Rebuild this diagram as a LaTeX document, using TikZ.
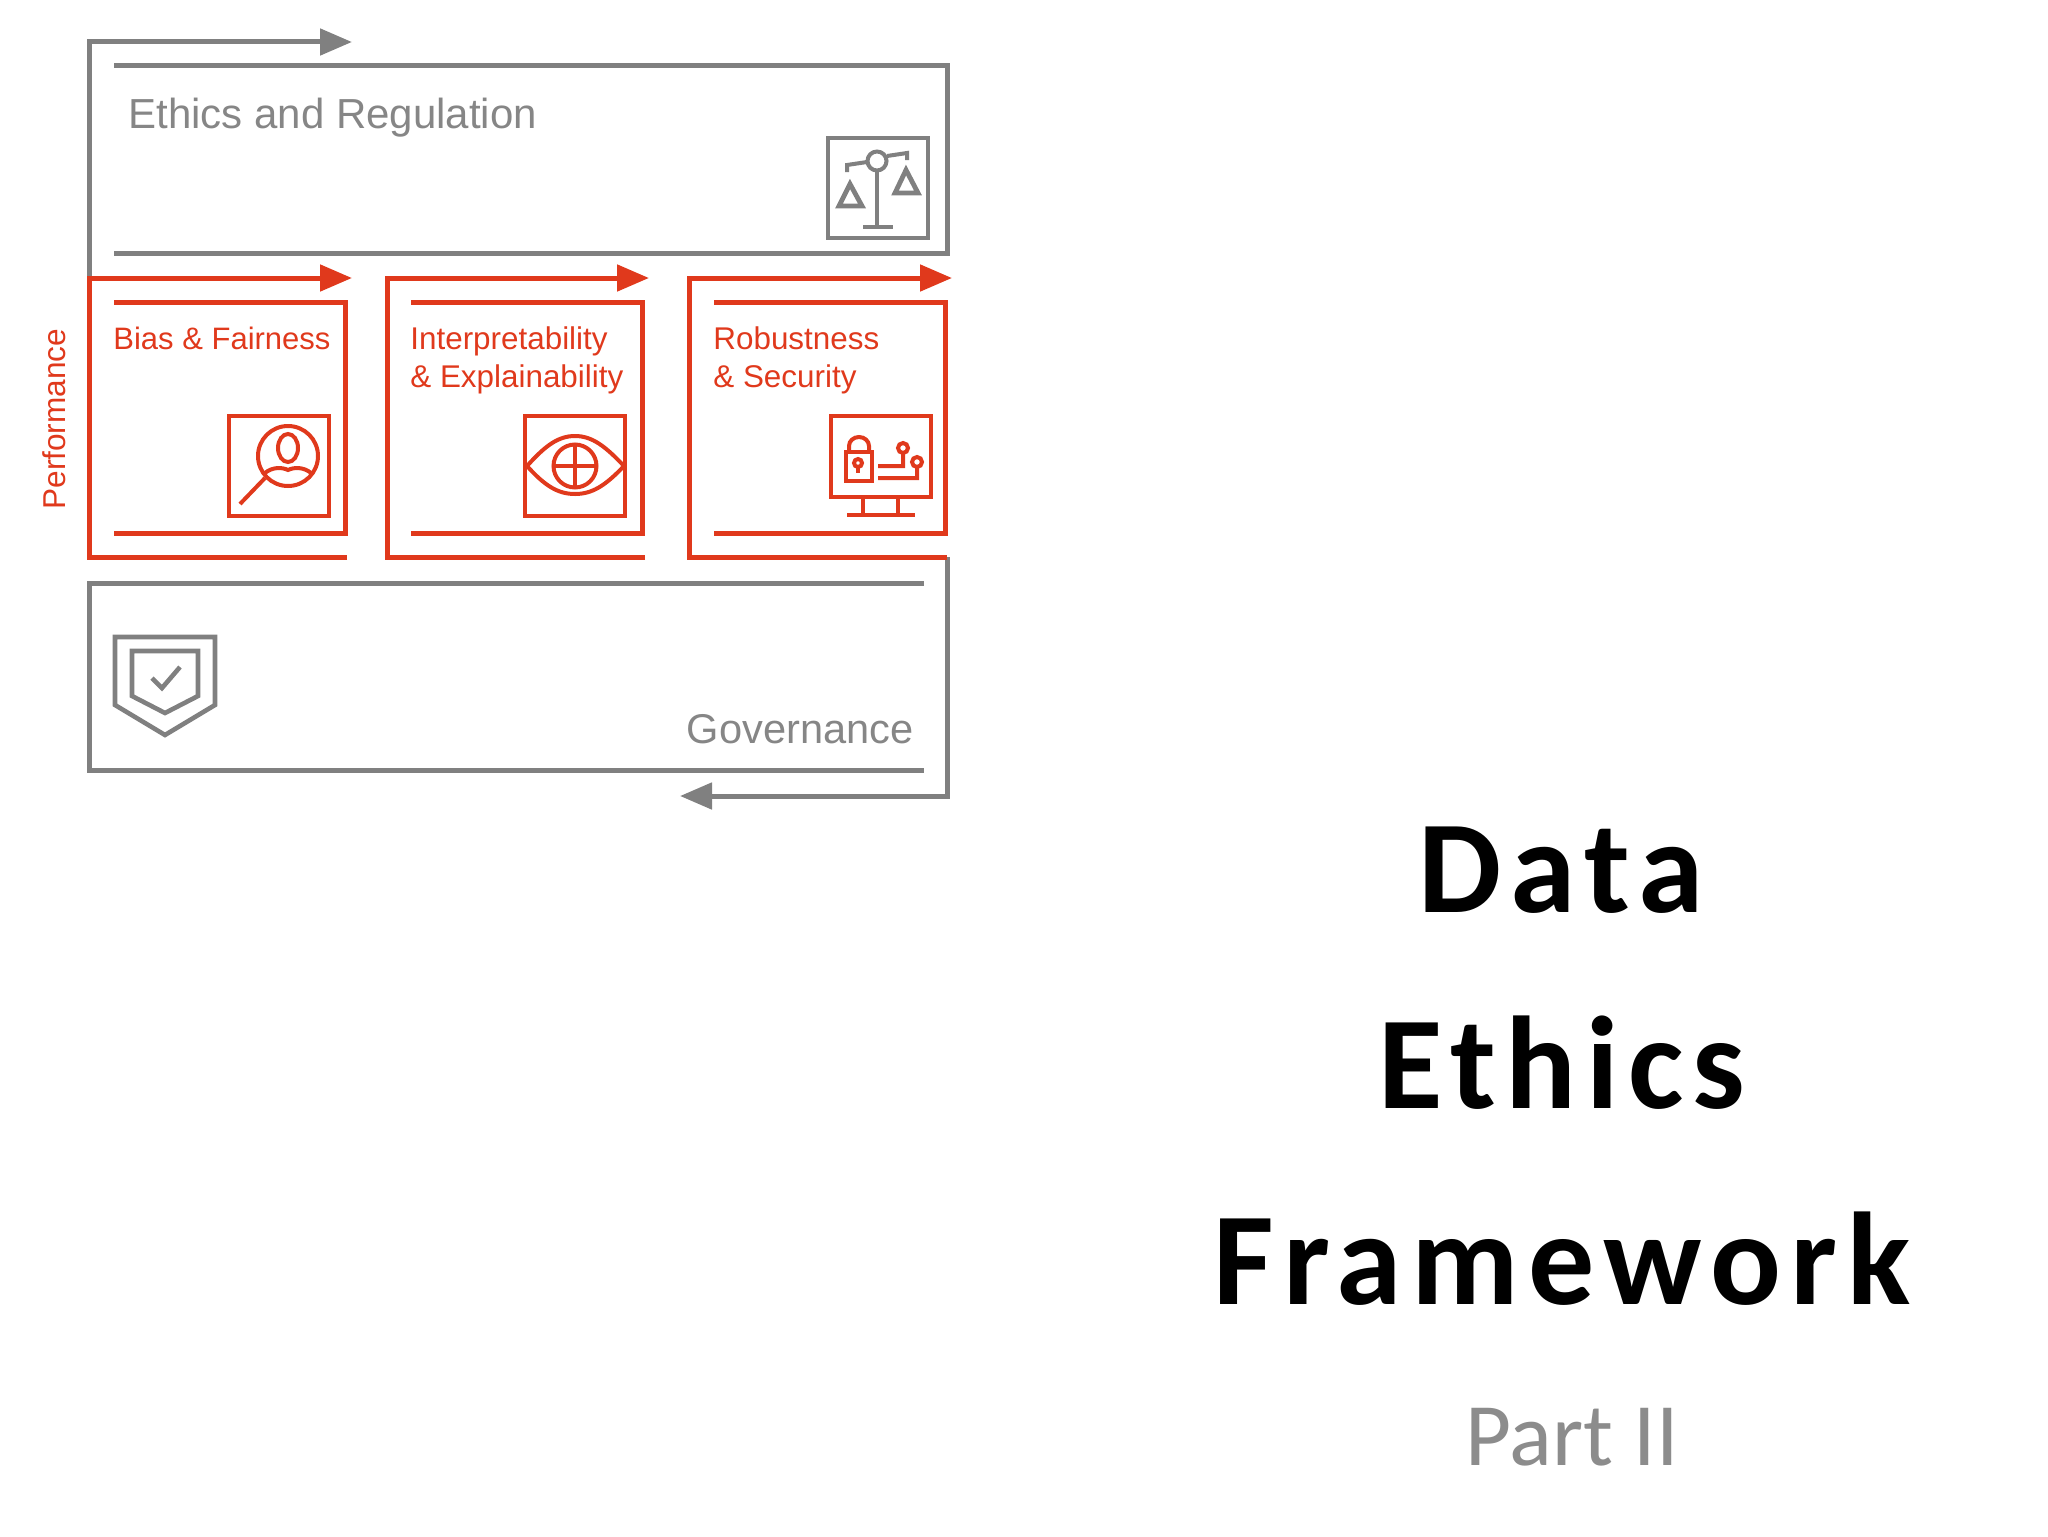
\documentclass[tikz,border=0pt]{standalone}
\usepackage{fontspec}
\setmainfont{Liberation Sans}
\newfontfamily\titlefont[LetterSpace=7.2]{Carlito}
\newfontfamily\partfont{Carlito}
\usetikzlibrary{arrows.meta}
\definecolor{framered}{HTML}{E0391C}
\definecolor{framegray}{HTML}{808080}
\definecolor{partgray}{HTML}{8C8C8C}
\tikzset{
  frameline/.style={line width=2.5pt},
  iconline/.style={line width=2pt},
  label/.style={inner sep=0pt,anchor=base west,font=\fontsize{15.7}{19}\selectfont,color=framered,align=left},
  biglabel/.style={inner sep=0pt,anchor=base west,font=\fontsize{21}{25}\selectfont,color=framegray!95},
  titleword/.style={inner sep=0pt,anchor=base,font=\titlefont\bfseries\fontsize{66}{80}\selectfont}
}
\begin{document}
\begin{tikzpicture}[x=0.5pt,y=-0.5pt,>={Triangle[length=16pt,width=13pt]}]
  \useasboundingbox (0,0) rectangle (2048,1536);
  % gray frames
  \begin{scope}[framegray,frameline]
    \draw[->] (89,279)--(89,42)--(352,42);
    \draw (114,66)--(947,66)--(947,253)--(114,253);
    \draw (924,583)--(89,583)--(89,770)--(924,770);
    \draw[->] (947,557)--(947,796)--(680,796);
  \end{scope}
  % red frames
  \foreach \xl/\xa/\xe/\xi/\xr in {89/352/347/114/345, 387/649/645/411/642, 689/952/947/714/945}{
    \draw[->,framered,frameline] (\xe,557)--(\xl,557)--(\xl,278)--(\xa,278);
    \draw[framered,frameline] (\xi,302)--(\xr,302)--(\xr,533)--(\xi,533);
  }
  % texts
  \node[biglabel] (ethics) at (128,128) {Ethics and Regulation};
  \node[biglabel,anchor=base east,font=\fontsize{20.8}{25}\selectfont] (gov) at (914,743) {Governance};
  \node[label,font=\fontsize{15.5}{19}\selectfont] (bias) at (113,349) {Bias \& Fairness};
  \node[label,anchor=north west] (interp) at (410,326.5) {Interpretability\\\& Explainability};
  \node[label,anchor=north west] (robust) at (713,326.5) {Robustness\\\& Security};
  \node[label,rotate=90,font=\fontsize{15.8}{19}\selectfont] (perf) at (65,510) {Performance};
  \node[titleword] (data) at (1561,912.5) {Data};
  \node[titleword] (word) at (1562,1108.5) {Ethics};
  \node[titleword] (frame) at (1562,1304) {Framework};
  \node[inner sep=0pt,anchor=base,color=partgray,font=\partfont\fontsize{44.6}{50}\selectfont] (part) at (1572,1465) {Part II};
  % scales
  \begin{scope}[framegray,iconline]
    \draw (828,138) rectangle (928,238);
    \draw (877,161) circle (9.5);
    \draw (877,170.5)--(877,227) (863,227)--(893,227);
    \draw (867,162)--(847,165)--(847,172);
    \draw (887,156)--(907,153)--(907,160);
    \draw[line width=2.4pt] (850,184)--(839,206)--(862,206)--cycle;
    \draw[line width=2.4pt] (906,170)--(895,193)--(918,193)--cycle;
  \end{scope}
  % shield
  \begin{scope}[framegray,line width=2.3pt]
    \draw (115,637)--(215,637)--(215,705)--(165,735)--(115,705)--cycle;
    \draw (132,651)--(198,651)--(198,696)--(165,713)--(132,696)--cycle;
    \draw (152,678)--(162,688)--(180,667);
  \end{scope}
  \begin{scope}[framered,iconline]
    % magnifier
    \draw (229,416) rectangle (329,516);
    \draw (288,456) circle (30);
    \draw (288,448) ellipse [x radius=10,y radius=14];
    \draw (265,473) .. controls (272,467) and (282,467) .. (288,470) .. controls (294,467) and (304,467) .. (311,473);
    \draw (265,478)--(240,504);
    % eye
    \draw (525,416) rectangle (625,516);
    \draw (527,466) .. controls (545,446) and (558,436) .. (575,436) .. controls (592,436) and (605,446) .. (624,466)
      .. controls (605,486) and (592,494) .. (575,494) .. controls (558,494) and (545,486) .. (527,466)--cycle;
    \draw (575,466) circle (21.5);
    \draw (553.5,466)--(596.5,466) (575,444.5)--(575,487.5);
    % monitor
    \draw (831,416) rectangle (931,497);
    \draw (863,497)--(863,515) (898,497)--(898,515) (847,515)--(915,515);
    \draw (846,452) rectangle (872,481);
    \draw (849,452)--(849,446) arc (180:360:10 and 9)--(869,452);
    \draw (858,463) circle (4);
    \draw (858,467)--(858,473);
    \draw (878,466)--(903,466)--(903,453) (903,448) circle (5);
    \draw (878,478)--(917,478)--(917,467) (917,462) circle (5);
  \end{scope}
\end{tikzpicture}
\end{document}
